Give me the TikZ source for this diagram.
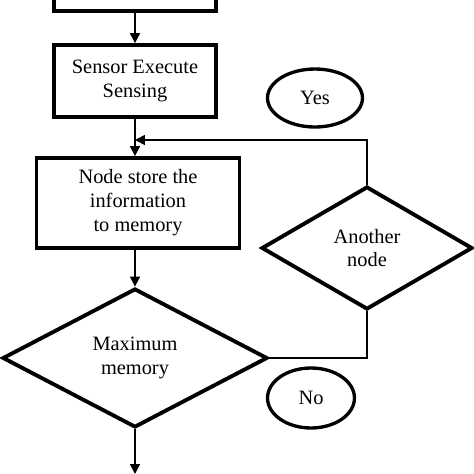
\documentclass[tikz,border=0pt]{standalone}
\usepackage{fontspec}
\setmainfont{Liberation Serif}
\usetikzlibrary{arrows.meta, positioning, shapes.geometric}

\begin{document}
\begin{tikzpicture}[x=0.02cm, y=-0.02cm, % one unit = one pixel of the image
         > = {Triangle[length=2mm, width=2mm]},
   every node/.style = {font=\fontsize{11.6}{13.6}\selectfont, align=center},
 process/.style = {draw, line width=2.2pt, rectangle,
                   minimum width=3.24cm, minimum height=1.44cm,
                   inner sep=2pt},
decision/.style = {draw, line width=2.2pt, diamond, inner sep=0pt},
  answer/.style = {draw, line width=1.9pt, ellipse, inner sep=0pt},
    line/.style = {line width=1pt}
                    ]
	\useasboundingbox (0,0) rectangle (474,474);

	% boxes of the chart
	\node[process] (prev) at (135,-25) {};
	\node[process] (sense) at (135,81) {Sensor Execute\\Sensing};
	\node[process, minimum width=4.06cm, minimum height=1.8cm] (store) at (138,203)
	     {Node store the\\information\\to memory};
	\node[decision, minimum width=5.3cm, minimum height=2.78cm] (maxmem) at (135,358)
	     {Maximum\\memory};
	\node[decision, minimum width=4.22cm, minimum height=2.46cm] (another) at (367,248)
	     {Another\\node};

	% yes / no labels
	\node[answer, minimum width=1.9cm, minimum height=1.16cm] (yes) at (315,98) {Yes};
	\node[answer, minimum width=1.74cm, minimum height=1.2cm] (no) at (311,398) {No};

	\coordinate (join) at (135,140);
	\coordinate (out) at (135,474);

	% connectors
	\draw[line,->] (prev) -- (sense);
	\draw[line,->] (sense) -- (sense |- store.north);
	\draw[line,->] (maxmem |- store.south) -- (maxmem);
	\draw[line,->] (maxmem) -- (out);
	\draw[line] (maxmem.east) -| (another.south);
	\draw[line,->] (another.north) |- (join);
\end{tikzpicture}
\end{document}
